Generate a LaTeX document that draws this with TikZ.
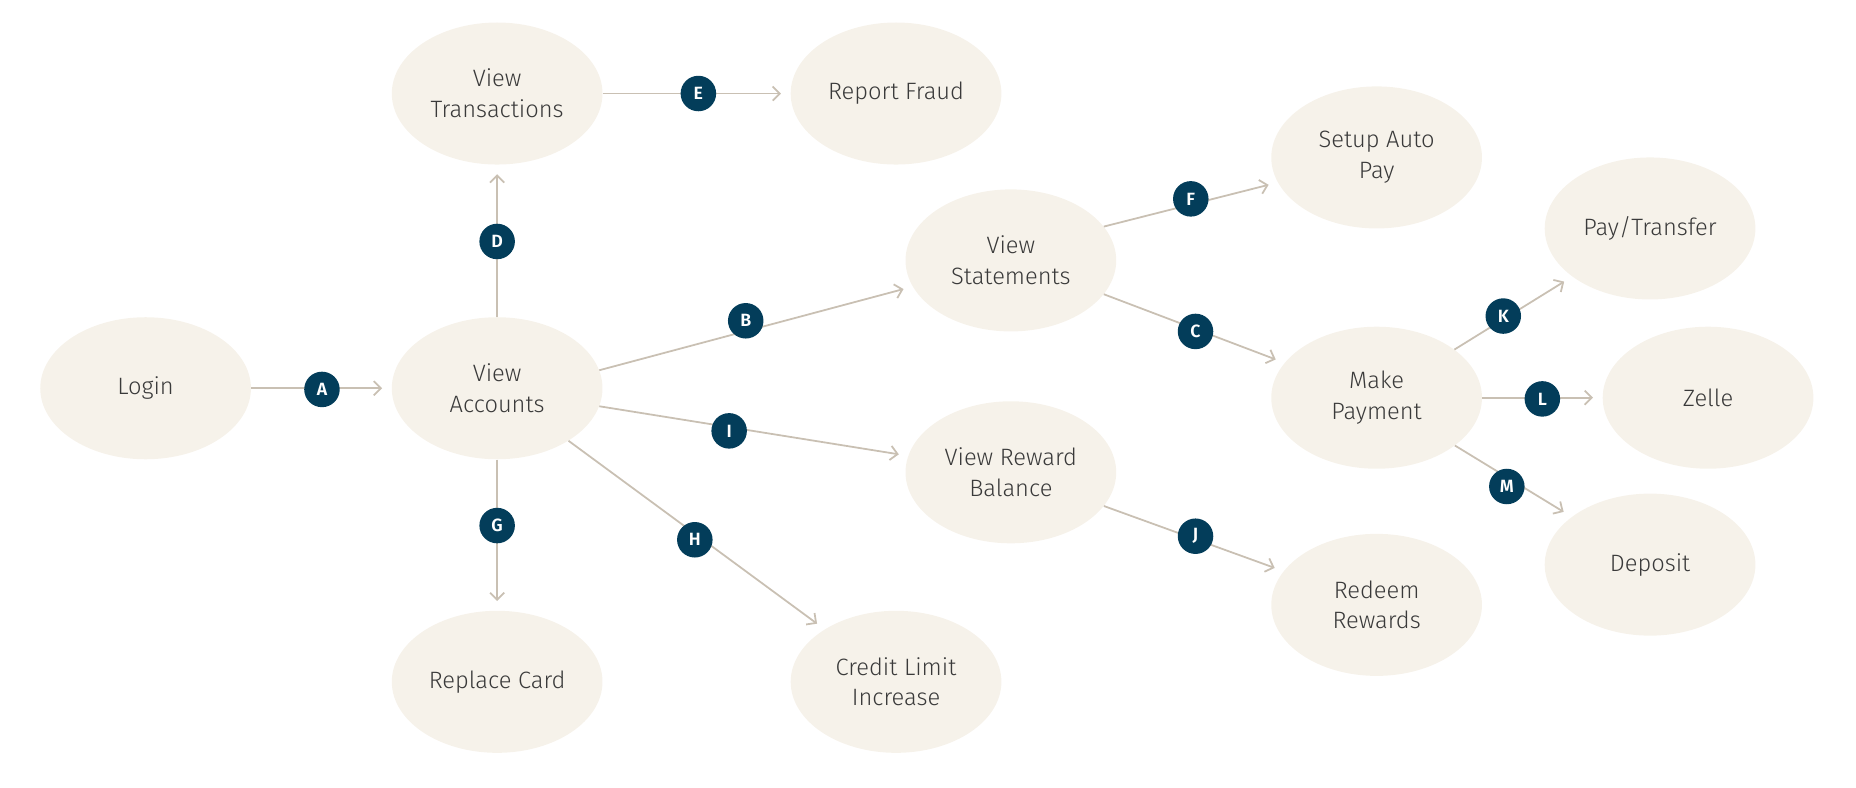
\documentclass[tikz,border=0pt]{standalone}
\usepackage{fontspec}
\setmainfont{Fira Sans}[UprightFont=* Light]
\usetikzlibrary{arrows.meta,shapes.geometric}
\definecolor{nodefill}{HTML}{F6F2EA}
\definecolor{edgec}{HTML}{C9C0B3}
\definecolor{badgec}{HTML}{033D5A}
\definecolor{textc}{HTML}{3A3A3A}
\tikzset{
  st/.style={ellipse,fill=nodefill,minimum width=178pt,minimum height=120pt,inner sep=0pt,align=center,font=\fontsize{20}{26}\selectfont,text=textc},
  bd/.style={circle,fill=badgec,text=white,minimum size=30pt,inner sep=0pt,font=\fontsize{15}{15}\selectfont\bfseries},
  ar/.style={draw=edgec,line width=1.5pt,-{Straight Barb[length=6pt,width=12pt]},shorten >=8pt}
}
\begin{document}
\begin{tikzpicture}[x=1pt,y=-1pt]
\useasboundingbox (0,0) rectangle (1568,665);
\node[st] (login) at (123,328) {Login};
\node[st] (acc) at (420,328) {View\\Accounts};
\node[st] (tr) at (420,79) {View\\Transactions};
\node[st] (rf) at (757,79) {Report Fraud};
\node[st] (rc) at (420,576) {Replace Card};
\node[st] (cl) at (757,576) {Credit Limit\\Increase};
\node[st] (vs) at (854,220) {View\\Statements};
\node[st] (rw) at (854,399) {View Reward\\Balance};
\node[st] (ap) at (1163,133) {Setup Auto\\Pay};
\node[st] (mp) at (1163,336) {Make\\Payment};
\node[st] (rr) at (1163,511) {Redeem\\Rewards};
\node[st] (pt) at (1394,193) {Pay/Transfer};
\node[st] (ze) at (1443,336) {Zelle};
\node[st] (de) at (1394,477) {Deposit};
\draw[ar] (login) -- (acc);
\draw[ar] (acc) -- (tr);
\draw[ar] (tr) -- (rf);
\draw[ar] (acc) -- (rc);
\draw[ar] (acc) -- (cl);
\draw[ar] (acc.10) -- (vs);
\draw[ar] (acc.-10) -- (rw);
\draw[ar] (vs.20) -- (ap);
\draw[ar] (vs.-20) -- (mp);
\draw[ar] (rw) -- (rr);
\draw[ar] (mp) -- (pt);
\draw[ar] (mp) -- (ze);
\draw[ar] (mp) -- (de);
\node[bd] (bA) at (272,329) {A};
\node[bd] (bB) at (630,271) {B};
\node[bd] (bC) at (1010,280) {C};
\node[bd] (bD) at (420,204) {D};
\node[bd] (bE) at (590,79) {E};
\node[bd] (bF) at (1006,168) {F};
\node[bd] (bG) at (420,444) {G};
\node[bd] (bH) at (587,456) {H};
\node[bd] (bI) at (616,364) {I};
\node[bd] (bJ) at (1010,453) {J};
\node[bd] (bK) at (1270,267) {K};
\node[bd] (bL) at (1303,337) {L};
\node[bd] (bM) at (1273,411) {M};
\end{tikzpicture}
\end{document}
